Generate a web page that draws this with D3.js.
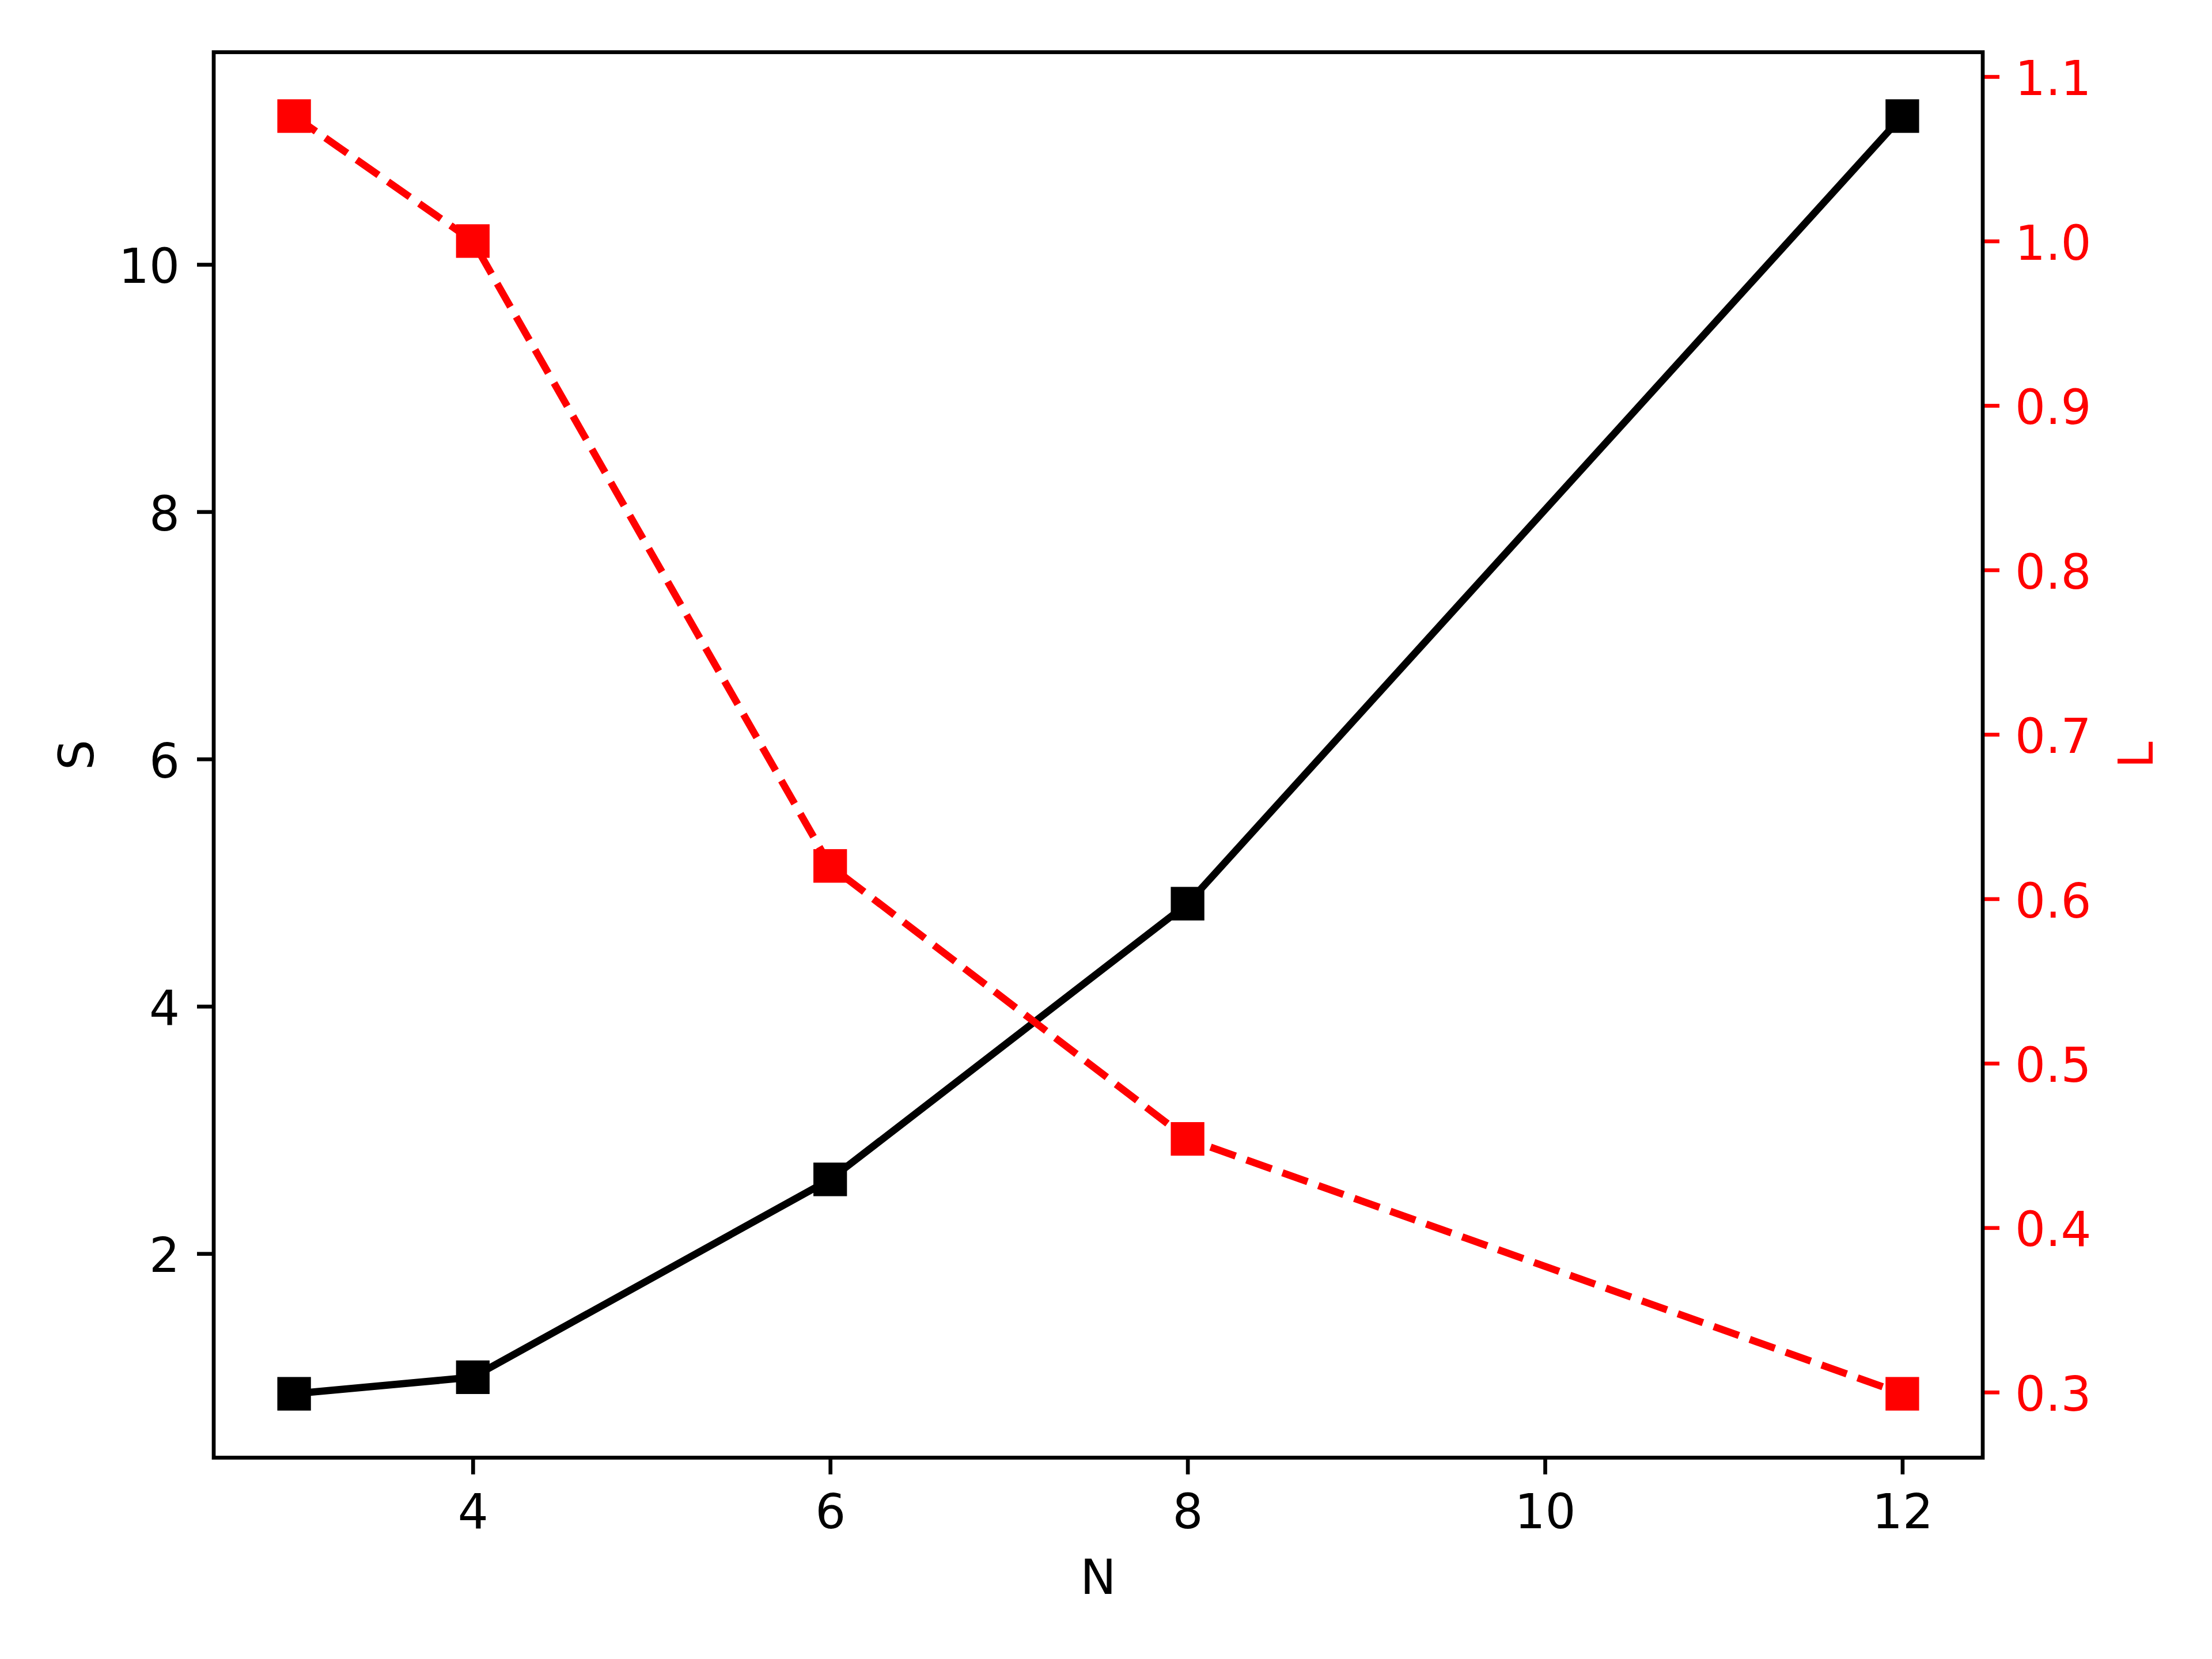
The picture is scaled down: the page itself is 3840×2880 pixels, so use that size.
<!DOCTYPE html>
<html>
<head>
<meta charset="utf-8">
<script src="https://cdn.jsdelivr.net/npm/d3@7"></script>
<style>
  html, body { margin: 0; padding: 0; background: #fff; }
  svg { display: block; }
  text { font-family: "DejaVu Sans", sans-serif; }
</style>
</head>
<body>
<svg id="chart" width="3840" height="2880"></svg>
<script>
// ---- data ----
const N = [3, 4, 6, 8, 12];
const S = [0.866, 1.0, 2.6, 4.83, 11.2];
const L = [1.076, 1.0, 0.62, 0.454, 0.299];
const xTicks = [4, 6, 8, 10, 12];
const sTicks = [2, 4, 6, 8, 10];
const lTicks = [0.3, 0.4, 0.5, 0.6, 0.7, 0.8, 0.9, 1.0, 1.1];
const xLabel = "N";
const sLabel = "S";
const lLabel = "L";

(function () {
// ---- layout ----
const W = 3840, H = 2880;
const pL = 371, pR = 3442, pT = 90.6, pB = 2530.5;
const fontSize = 83.33;
const tickLen = 29;
const spineW = 6.67;
const lineW = 12.5;
const markerSide = 58.3;

function padded(vals) {
  const mn = d3.min(vals), mx = d3.max(vals), r = mx - mn;
  return [mn - 0.05 * r, mx + 0.05 * r];
}

const x = d3.scaleLinear().domain(padded(N)).range([pL, pR]);
const yS = d3.scaleLinear().domain(padded(S)).range([pB, pT]);
const yL = d3.scaleLinear().domain(padded(L)).range([pB, pT]);

const svg = d3.select("#chart");
svg.append("rect").attr("width", W).attr("height", H).attr("fill", "#fff");

const sData = N.map((n, i) => ({ n, v: S[i] }));
const lData = N.map((n, i) => ({ n, v: L[i] }));

// ---- S series (black, solid) ----
const gS = svg.append("g");
gS.append("path")
  .datum(sData)
  .attr("fill", "none")
  .attr("stroke", "#000")
  .attr("stroke-width", lineW)
  .attr("stroke-linejoin", "round")
  .attr("stroke-linecap", "butt")
  .attr("d", d3.line().x(d => x(d.n)).y(d => yS(d.v)));
gS.selectAll("rect.m")
  .data(sData).enter().append("rect")
  .attr("class", "m")
  .attr("x", d => x(d.n) - markerSide / 2)
  .attr("y", d => yS(d.v) - markerSide / 2)
  .attr("width", markerSide).attr("height", markerSide)
  .attr("fill", "#000");

// ---- L series (red, dashed) ----
const gLs = svg.append("g");
gLs.append("path")
  .datum(lData)
  .attr("fill", "none")
  .attr("stroke", "#ff0000")
  .attr("stroke-width", lineW)
  .attr("stroke-dasharray", "46.25,20")
  .attr("stroke-linejoin", "round")
  .attr("stroke-linecap", "butt")
  .attr("d", d3.line().x(d => x(d.n)).y(d => yL(d.v)));
gLs.selectAll("rect.m")
  .data(lData).enter().append("rect")
  .attr("class", "m")
  .attr("x", d => x(d.n) - markerSide / 2)
  .attr("y", d => yL(d.v) - markerSide / 2)
  .attr("width", markerSide).attr("height", markerSide)
  .attr("fill", "#ff0000");

// ---- axes ----
function styleAxis(g, color) {
  g.select(".domain").remove();
  g.attr("font-family", "DejaVu Sans, sans-serif").attr("font-size", fontSize);
  g.selectAll(".tick line").attr("stroke", color).attr("stroke-width", spineW);
  g.selectAll(".tick text").attr("fill", color);
}

const gx = svg.append("g")
  .attr("transform", `translate(0,${pB})`)
  .call(d3.axisBottom(x).tickValues(xTicks).tickFormat(d3.format("d"))
    .tickSize(tickLen).tickSizeOuter(0).tickPadding(34.5));
styleAxis(gx, "#000");

const gyS = svg.append("g")
  .attr("transform", `translate(${pL},0)`)
  .call(d3.axisLeft(yS).tickValues(sTicks).tickFormat(d3.format("d"))
    .tickSize(tickLen).tickSizeOuter(0).tickPadding(30));
styleAxis(gyS, "#000");
gyS.selectAll(".tick text").attr("dy", "0.38em");

const gyL = svg.append("g")
  .attr("transform", `translate(${pR},0)`)
  .call(d3.axisRight(yL).tickValues(lTicks).tickFormat(d3.format(".1f"))
    .tickSize(tickLen).tickSizeOuter(0).tickPadding(27));
styleAxis(gyL, "#ff0000");
gyL.selectAll(".tick text").attr("dy", "0.38em");

// ---- frame (spines) ----
svg.append("rect")
  .attr("x", pL).attr("y", pT)
  .attr("width", pR - pL).attr("height", pB - pT)
  .attr("fill", "none")
  .attr("stroke", "#000")
  .attr("stroke-width", spineW)
  .attr("stroke-linejoin", "miter");

// ---- axis labels ----
svg.append("text")
  .attr("x", (pL + pR) / 2).attr("y", 2766.7)
  .attr("text-anchor", "middle")
  .attr("font-size", fontSize)
  .attr("fill", "#000")
  .text(xLabel);

svg.append("text")
  .attr("transform", `translate(162,${(pT + pB) / 2}) rotate(-90)`)
  .attr("text-anchor", "middle")
  .attr("font-size", fontSize)
  .attr("fill", "#000")
  .text(sLabel);

svg.append("text")
  .attr("transform", `translate(3737,${(pT + pB) / 2}) rotate(-90)`)
  .attr("text-anchor", "middle")
  .attr("font-size", fontSize)
  .attr("fill", "#ff0000")
  .text(lLabel);
})();
</script>
</body>
</html>
